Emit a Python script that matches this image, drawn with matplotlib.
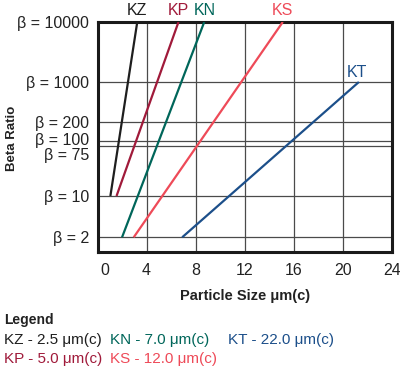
import numpy as np
import matplotlib
matplotlib.use("Agg")
import matplotlib.pyplot as plt
import matplotlib.transforms as mtransforms
from matplotlib.ticker import NullLocator

plt.rcParams['font.family'] = ['Liberation Sans Narrow', 'Liberation Sans', 'DejaVu Sans']

# ---- data ----
series = ["KZ", "KP", "KN", "KS", "KT"]
x_start = [1.05, 1.55, 2.0, 2.95, 6.9]
beta_start = [10, 10, 2, 2, 2]
x_end = [3.24, 6.6, 8.7, 15.1, 21.3]
beta_end = [10000, 10000, 10000, 10000, 1000]
colors = ["#1e1e1e", "#a01a3a", "#00665a", "#ee4a58", "#1c4f8a"]
legend_text = ["KZ - 2.5 μm(c)", "KP - 5.0 μm(c)", "KN - 7.0 μm(c)",
               "KS - 12.0 μm(c)", "KT - 22.0 μm(c)"]

beta_ticks = [2, 10, 75, 100, 200, 1000, 10000]
beta_tick_labels = ["β = 2", "β = 10", "β = 75", "β = 100", "β = 200",
                    "β = 1000", "β = 10000"]
x_ticks = [0, 4, 8, 12, 16, 20, 24]

# schematic (non-uniform) beta axis: log10(beta) -> vertical position
scale_logs = np.log10([1, 2, 10, 75, 100, 200, 1000, 10000, 100000])
scale_pos = -np.array([255.0, 237.3, 196.0, 145.7, 140.5, 122.0, 82.0, 22.0, -38.0])


def fwd(b):
    with np.errstate(divide="ignore", invalid="ignore"):
        lb = np.log10(np.asarray(b, dtype=float))
    return np.interp(lb, scale_logs, scale_pos)


def inv(p):
    return 10 ** np.interp(np.asarray(p, dtype=float), scale_pos, scale_logs)


W, H = 400, 372
fig = plt.figure(figsize=(W / 100, H / 100), dpi=100)
L, R, T, B = 97.5, 392, 22, 252
ax = fig.add_axes([L / W, 1 - B / H, (R - L) / W, (B - T) / H])
ax.set_yscale("function", functions=(fwd, inv))
ax.set_xlim(0, 24)
ax.set_ylim(1.125, 10000)

for i in range(len(series)):
    ax.plot([x_start[i], x_end[i]], [beta_start[i], beta_end[i]],
            color=colors[i], lw=1.6, solid_capstyle="butt", zorder=3)
    if i == 4:
        off = (-2, 10)
    else:
        off = (0, 12)
    ax.annotate(series[i], (x_end[i], beta_end[i]), xytext=off,
                textcoords="offset pixels", ha="center", va="center",
                color=colors[i], fontsize=11.5, annotation_clip=False)

ax.set_xticks(x_ticks)
ax.set_xticklabels([str(v) for v in x_ticks])
ax.set_yticks(beta_ticks)
ax.set_yticklabels(beta_tick_labels)
ax.yaxis.set_minor_locator(NullLocator())
ax.xaxis.set_minor_locator(NullLocator())
ax.tick_params(length=0, labelsize=11.5, colors="#222222")
ax.tick_params(axis="x", pad=8)
ax.tick_params(axis="y", pad=6)

# shift "0" label right and "β = 75" label down as in reference
lbl0 = ax.get_xticklabels()[0]
lbl0.set_transform(lbl0.get_transform() + mtransforms.ScaledTranslation(7 / 100, 0, fig.dpi_scale_trans))
lbl75 = ax.get_yticklabels()[2]
lbl75.set_transform(lbl75.get_transform() + mtransforms.ScaledTranslation(0, -8 / 100, fig.dpi_scale_trans))
lbl100 = ax.get_yticklabels()[3]
lbl100.set_transform(lbl100.get_transform() + mtransforms.ScaledTranslation(0, 1.5 / 100, fig.dpi_scale_trans))

ax.grid(True, color="#4a4a4a", lw=0.9, zorder=1)
for s in ax.spines.values():
    s.set_linewidth(2.2)
    s.set_color("#1a1a1a")

fig.text(12 / W, 1 - 138 / H, "Beta Ratio", rotation=90, ha="center", va="center",
         fontsize=9.5, fontweight="bold", color="#222222")
fig.text(245 / W, 1 - 296 / H, "Particle Size μm(c)", ha="center", va="center",
         fontsize=10.5, fontweight="bold", color="#222222")

fig.text(4 / W, 1 - 320 / H, "Legend", ha="left", va="center",
         fontsize=10, fontweight="bold", color="#222222")
pos = [(4, 340), (4, 359), (110, 340), (110, 359), (228, 340)]
for i in range(len(series)):
    fig.text(pos[i][0] / W, 1 - pos[i][1] / H, legend_text[i], ha="left", va="center",
             fontsize=11, color=colors[i])

fig.savefig("out.png", dpi=100)
